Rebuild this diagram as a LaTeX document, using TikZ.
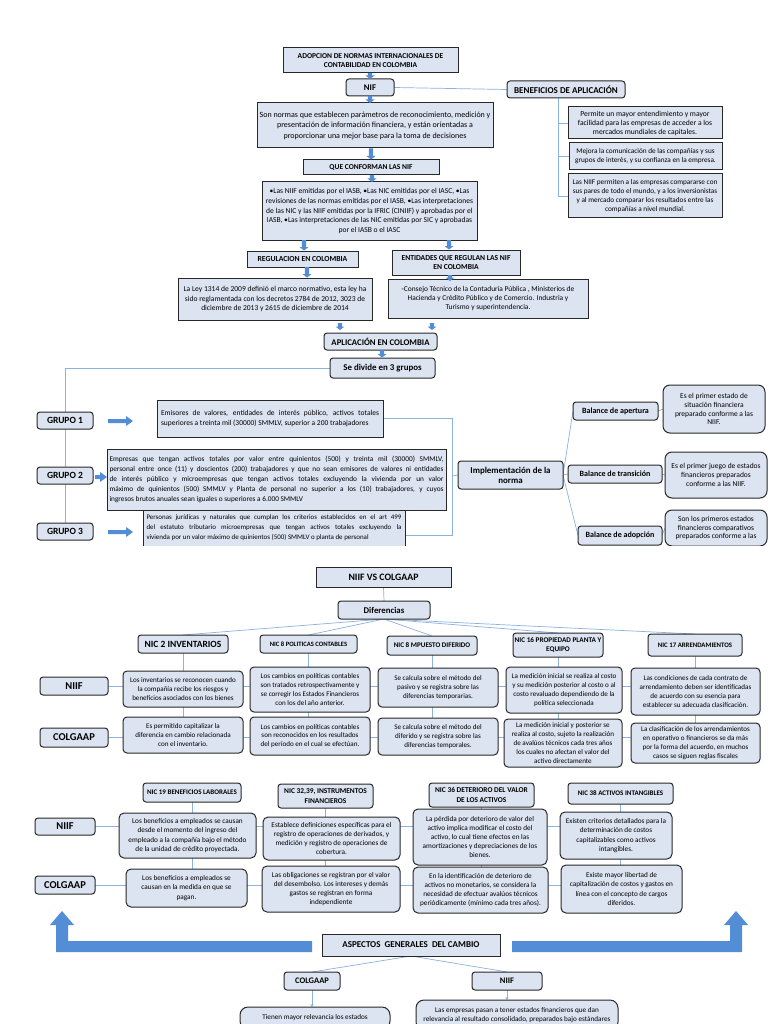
\documentclass[tikz,border=0pt]{standalone}
\usepackage{fontspec}
\setmainfont{Carlito}
\usetikzlibrary{backgrounds,arrows.meta,calc}
\definecolor{boxc}{RGB}{220,227,241}
\definecolor{bordc}{RGB}{40,40,40}
\definecolor{connc}{RGB}{140,178,222}
\definecolor{arrc}{RGB}{83,141,213}
\newcommand\fs[2]{\fontsize{#1}{#2}\selectfont}
\newcommand\bx[7]{\node[#6,minimum width={(#4)-(#2)},minimum height={(#5)-(#3)}] (#1) at ({((#2)+(#4))/2},{((#3)+(#5))/2}) {#7};}
\newcommand\darr[3]{\fill[arrc] ({#1-2.2},#2) -- ({#1+2.2},#2) -- ({#1+2.2},{#3-3.5}) -- ({#1+4.5},{#3-3.5}) -- (#1,#3) -- ({#1-4.5},{#3-3.5}) -- ({#1-2.2},{#3-3.5}) -- cycle;}
\newcommand\rarr[3]{\fill[arrc] (#1,{#3-2}) -- ({#2-7},{#3-2}) -- ({#2-7},{#3-5}) -- (#2,#3) -- ({#2-7},{#3+5}) -- ({#2-7},{#3+2}) -- (#1,{#3+2}) -- cycle;}
\tikzset{
  sq/.style={draw=bordc,line width=1pt,fill=boxc,inner sep=1pt,outer sep=0pt,align=center,text=black},
  rd/.style={sq,rounded corners=3pt},
  rdl/.style={sq,rounded corners=7pt},
  conn/.style={draw=connc,line width=0.7pt},
  hb/.style={font=\fs{#1}{8.5}\bfseries},
}
\begin{document}
\begin{tikzpicture}[x=1pt,y=-1pt]
\useasboundingbox (0,0) rectangle (768,1024);
\begin{scope}[on background layer]
\fill[white] (0,0) rectangle (768,1024);
\end{scope}

% ---------------- TOP SECTION ----------------
\bx{title}{283}{48}{458}{73}{sq,font=\fs{7.5}{9.5}\bfseries}{ADOPCION DE NORMAS INTERNACIONALES DE\\CONTABILIDAD EN COLOMBIA}
\bx{nif}{346}{79}{394}{96}{rd,hb=8.7}{NIF}
\bx{ben}{507}{81}{625}{98}{rd,hb=9}{BENEFICIOS DE APLICACIÓN}
\bx{b1}{568}{107}{722}{139}{sq,font=\fs{7.6}{9}}{Permite un mayor entendimiento y mayor\\facilidad para las empresas de acceder a los\\mercados mundiales de capitales.}
\bx{b2}{569}{143}{722}{170}{sq,font=\fs{7.25}{9}}{Mejora la comunicación de las compañías y sus\\grupos de interés, y su confianza en la empresa.}
\bx{b3}{568}{174}{722}{218}{sq,font=\fs{7.25}{9}}{Las NIIF permiten a las empresas compararse con\\sus pares de todo el mundo, y a los inversionistas\\y al mercado comparar los resultados entre las\\compañías a nivel mundial.}
\bx{desc}{257}{103}{493}{148}{sq,font=\fs{8}{10.5}}{Son normas que establecen parámetros de reconocimiento, medición y\\presentación de información financiera, y están orientadas a\\proporcionar una mejor base para la toma de decisiones}
\bx{qc}{303}{160}{439}{175}{sq,hb=7.5}{QUE CONFORMAN LAS NIF}
\bx{list}{262}{182}{477}{240}{sq,font=\fs{7.55}{9.7}}{•Las NIIF emitidas por el IASB, •Las NIC emitidas por el IASC, •Las\\revisiones de las normas emitidas por el IASB, •Las interpretaciones\\de las NIC y las NIIF emitidas por la IFRIC (CINIIF) y aprobadas por el\\IASB, •Las interpretaciones de las NIC emitidas por SIC y aprobadas\\por el IASB o el IASC}
\bx{reg}{247}{251}{358}{267}{sq,hb=7.7}{REGULACION EN COLOMBIA}
\bx{ent}{392}{250}{520}{275}{sq,font=\fs{7.6}{9}\bfseries}{ENTIDADES QUE REGULAN LAS NIF\\EN COLOMBIA}
\bx{ley}{178}{278}{372}{320}{sq,font=\fs{7.55}{9.5}}{La Ley 1314 de 2009 definió el marco normativo, esta ley ha\\sido reglamentada con los decretos 2784 de 2012, 3023 de\\diciembre de 2013 y 2615 de diciembre de 2014}
\bx{cons}{388}{279}{588}{318}{sq,font=\fs{7.4}{9}}{-Consejo Técnico de la Contaduría Pública , Ministerios de\\Hacienda y Crédito Público y de Comercio. Industria y\\Turismo y superintendencia.}
\bx{apl}{324}{333}{437}{350}{rd,hb=8.7}{APLICACIÓN EN COLOMBIA}
\bx{sed}{330}{358}{435}{378}{rd,hb=8.9}{Se divide en 3 grupos}
\bx{g1}{37}{412}{93}{429}{rd,hb=9.5}{GRUPO 1}
\bx{g2}{37}{467}{93}{484}{rd,hb=9.5}{GRUPO 2}
\bx{g3}{37}{523}{93}{540}{rd,hb=9.5}{GRUPO 3}
\bx{g1t}{157}{400}{383}{437}{sq,font=\fs{7.5}{9.3},text width=218pt,align=justify}{\parfillskip=0pt\relax Emisores de valores, entidades de interés público, activos totales\linebreak superiores a treinta mil (30000) SMMLV, superior a 200 trabajadores}
\bx{g2t}{107}{449}{446}{510}{sq,font=\fs{7.3}{10.2},text width=334pt,align=justify}{Empresas que tengan activos totales por valor entre quinientos (500) y treinta mil (30000) SMMLV,\linebreak personal entre once (11) y doscientos (200) trabajadores y que no sean emisores de valores ni entidades\linebreak de interés público y microempresas que tengan activos totales excluyendo la vivienda por un valor\linebreak máximo de quinientos (500) SMMLV y Planta de personal no superior a los (10) trabajadores, y cuyos\linebreak ingresos brutos anuales sean iguales o superiores a 6.000 SMMLV}
\bx{g3t}{143}{510}{405}{546}{sq,font=\fs{6.95}{10},text width=255pt,align=justify}{\parfillskip=0pt\relax Personas jurídicas y naturales que cumplan los criterios establecidos en el art 499\linebreak del estatuto tributario microempresas que tengan activos totales excluyendo la\linebreak vivienda por un valor máximo de quinientos (500) SMMLV o planta de personal}
\bx{impl}{458}{461}{563}{489}{rd,font=\fs{8.9}{10}\bfseries}{Implementación de la\\norma}
\bx{bal1}{573}{402}{658}{420}{rd,hb=8}{Balance de apertura}
\bx{bal2}{568}{465}{662}{483}{rd,hb=8}{Balance de transición}
\bx{bal3}{578}{526}{662}{545}{rd,hb=8}{Balance de adopción}
\bx{ds1}{663}{385}{765}{433}{rdl,font=\fs{7.5}{8.9}}{Es el primer estado de\\situación financiera\\preparado conforme a las\\NIIF.}
\bx{ds2}{665}{452}{767}{498}{rdl,font=\fs{7.5}{8.9}}{Es el primer juego de estados\\financieros preparados\\conforme a las NIIF.}
\bx{ds3}{665}{510}{767}{546}{rdl,font=\fs{7.5}{8.9}}{Son los primeros estados\\financieros comparativos\\preparados conforme a las}

\darr{370}{73}{79}
\darr{370}{96}{103}
\darr{371}{148.5}{159.5}
\darr{372}{175}{182}
\darr{304}{240}{250.5}
\darr{449}{240}{249.5}
\darr{307}{267}{277.5}
\darr{450}{275}{281}
\darr{340}{323}{330}
\darr{432}{323}{330}
\darr{382}{350}{357.5}
\rarr{108}{133}{421}
\rarr{95}{107}{477}
\rarr{108}{133}{532}

\coordinate (bv) at (558,98);
\coordinate (brk) at (452,476);
\begin{scope}[on background layer]
\draw[conn] (nif.east) -- (ben.west);
\draw[conn] (bv) |- (b1.west);
\draw[conn] (bv) |- (b2.west);
\draw[conn] (bv) |- (b3.west);
\draw[conn] (sed.west) -| (g1.north);
\draw[conn] (g1.south) -- (g2.north);
\draw[conn] (g2.south) -- (g3.north);
\draw[conn] (g1t.east) -| (brk);
\draw[conn] ([yshift=-7pt]g3t.east) -| (brk);
\draw[conn] (brk) -- (impl.west);
\draw[conn] (impl.east) -- (bal1.west);
\draw[conn] (impl.east) -- (bal2.west);
\draw[conn] (impl.east) -- (bal3.west);
\draw[conn] (bal1.east) -- (ds1.west);
\draw[conn] (bal2.east) -- (ds2.west);
\draw[conn] (bal3.east) -- (ds3.west);
\end{scope}

% white gap between the two pages
\fill[white] (0,545.5) rectangle (768,559);

% ---------------- BOTTOM SECTION ----------------
\bx{nvc}{316}{567}{451}{587}{sq,hb=9.8}{NIIF VS COLGAAP}
\bx{dif}{338}{601}{430}{619}{rd,hb=8.8}{Diferencias}
\bx{h1}{138}{635}{228}{653}{rd,hb=9.5}{NIC 2 INVENTARIOS}
\bx{h2}{260}{635}{357}{653}{rd,hb=6.6}{NIC 8 POLITICAS CONTABLES}
\bx{h3}{387}{636}{477}{655}{rd,hb=7.1}{NIC 8 MPUESTO DIFERIDO}
\bx{h4}{513}{633}{603}{657}{rd,font=\fs{7.2}{9.5}\bfseries}{NIC 16 PROPIEDAD PLANTA Y\\EQUIPO}
\bx{h5}{648}{634}{742}{656}{rd,hb=6.8}{NIC 17 ARRENDAMIENTOS}
\bx{la1}{40}{677}{108}{695}{rd,hb=10.5}{NIIF}
\bx{la2}{40}{728}{108}{747}{rd,hb=10.5}{COLGAAP}
\tikzset{cell/.style={rd,rounded corners=4pt,font=\fs{7.1}{8.8}}}
\bx{c11}{123}{671}{243}{707}{cell}{Los inventarios se reconocen cuando\\la compañía recibe los riesgos y\\beneficios asociados con los bienes}
\bx{c12}{250}{667}{370}{712}{cell}{Los cambios en políticas contables\\son tratados retrospectivamente y\\se  corregir los Estados Financieros\\con los del año anterior.}
\bx{c13}{378}{668}{498}{707}{cell}{Se calcula sobre el método del\\pasivo y se registra sobre las\\diferencias temporarias.}
\bx{c14}{506}{667}{622}{713}{cell}{La medición inicial se realiza al costo\\y su medición posterior al costo o al\\costo revaluado dependiendo de la\\política seleccionada}
\bx{c15}{631}{668}{760}{715}{cell}{Las condiciones de cada contrato de\\arrendamiento deben ser identificadas\\de acuerdo con su esencia para\\establecer su adecuada clasificación.}
\bx{c21}{123}{717}{243}{753}{cell}{Es permitido capitalizar la\\diferencia en cambio relacionada\\con el inventario.}
\bx{c22}{250}{717}{370}{755}{cell}{Los cambios en políticas contables\\son reconocidos en los resultados\\del período en el cual se efectúan.}
\bx{c23}{378}{718}{498}{755}{cell}{Se calcula sobre el método del\\diferido y se registra sobre las\\diferencias temporales.}
\bx{c24}{504}{719}{622}{767}{cell}{La medición inicial y posterior se\\realiza al costo, sujeto la realización\\de avalúos técnicos cada tres años\\los cuales no afectan el valor del\\activo directamente}
\bx{c25}{631}{723}{760}{763}{cell}{La clasificación de los arrendamientos\\en operativo o financieros se da más\\por la forma del acuerdo, en muchos\\casos se siguen reglas fiscales}

\bx{k1}{143}{783}{241}{802}{rd,hb=7}{NIC 19 BENEFICIOS LABORALES}
\bx{k2}{278}{784}{373}{808}{rd,font=\fs{7.4}{9.5}\bfseries}{NIC 32,39, INSTRUMENTOS\\FINANCIEROS}
\bx{k3}{429}{783}{534}{807}{rd,font=\fs{7.4}{9.5}\bfseries}{NIC 36 DETERIORO DEL VALOR\\DE LOS ACTIVOS}
\bx{k4}{568}{783}{673}{804}{rd,hb=7}{NIC 38 ACTIVOS INTANGIBLES}
\bx{lb1}{35}{818}{95}{835}{rd,hb=10.5}{NIIF}
\bx{lb2}{35}{876}{95}{894}{rd,hb=10.5}{COLGAAP}
\tikzset{cellb/.style={rd,rounded corners=5pt,font=\fs{7.25}{9.2}}}
\bx{m11}{119}{813}{256}{858}{cellb}{Los beneficios a empleados se causan\\desde el momento del ingreso del\\empleado a la compañía bajo el método\\de la unidad de crédito proyectada.}
\bx{m12}{263}{817}{400}{860}{cellb}{Establece definiciones específicas para el\\registro de operaciones de derivados, y\\medición y registro de operaciones de\\cobertura.}
\bx{m13}{413}{809}{547}{865}{cellb}{La pérdida por deterioro de valor del\\activo implica modificar el costo del\\activo, lo cual tiene efectos en las\\amortizaciones y depreciaciones de los\\bienes.}
\bx{m14}{560}{812}{672}{859}{cellb}{Existen criterios detallados para la\\determinación de costos\\capitalizables como activos\\intangibles.}
\bx{m21}{126}{869}{247}{907}{cellb}{Los beneficios a empleados se\\causan en la medida en que se\\pagan.}
\bx{m22}{262}{866}{400}{912}{cellb}{Las obligaciones se registran por el valor\\del desembolso. Los intereses y demás\\gastos se registran en forma\\independiente}
\bx{m23}{413}{867}{548}{913}{cellb}{En la identificación de deterioro de\\activos no monetarios, se considera la\\necesidad de efectuar avalúos técnicos\\periódicamente (mínimo cada tres años).}
\bx{m24}{561}{865}{682}{913}{cellb}{Existe mayor libertad de\\capitalización de costos y gastos en\\línea con el concepto de cargos\\diferidos.}

\bx{asp}{322}{934}{500}{956}{sq,hb=9}{ASPECTOS\ \ GENERALES\ \ DEL CAMBIO}
\bx{bcol}{284}{972}{340}{990}{rd,hb=8.5}{COLGAAP}
\bx{bnf}{472}{972}{542}{990}{rd,hb=8.5}{NIIF}
\bx{bl}{240}{1007}{390}{1029}{rdl,rounded corners=8pt,font=\fs{7.2}{9}}{Tienen mayor relevancia los estados}
\bx{br}{416}{1000}{618}{1030}{rdl,rounded corners=8pt,font=\fs{7.2}{9.3}}{Las empresas pasan a tener estados financieros que dan\\relevancia al resultado consolidado, preparados bajo estándares}

% big bent arrows
\fill[arrc] (312,941) -- (68,941) -- (68,925) -- (74,925) -- (62,911) -- (50,925) -- (56,925) -- (56,952) -- (312,952) -- cycle;
\fill[arrc] (512,941) -- (730,941) -- (730,925) -- (724,925) -- (736,911) -- (748,925) -- (742,925) -- (742,952) -- (512,952) -- cycle;

\begin{scope}[on background layer]
\draw[conn] (nvc.south) -- (dif.north);
\foreach \h in {h1,h2,h3,h4,h5} \draw[conn] (dif.south) -- (\h.north);
\draw[conn] (la1.east) -- (c15.west |- la1.east);
\draw[conn] (la2.east) -- (c25.west |- la2.east);
\foreach \a/\b in {h1/c21,h2/c22,h3/c23,h4/c24,h5/c25} \draw[conn] (\a.south) -- (\a.south |- \b.north);
\draw[conn] (lb1.east) -- (m14.west |- lb1.east);
\draw[conn] (lb2.east) -- (m24.west |- lb2.east);
\foreach \a/\b in {k1/m21,k2/m22,k3/m23,k4/m24} \draw[conn] (\a.south) -- (\a.south |- \b.north);
\draw[conn] (asp.south) -- (bcol.north);
\draw[conn] (asp.south) -- (bnf.north);
\draw[conn,-{Stealth[length=3pt,width=3pt]}] (bcol.south) -- (bcol.south |- bl.north);
\draw[conn,-{Stealth[length=3pt,width=3pt]}] (bnf.south) -- (bnf.south |- br.north);
\end{scope}
\end{tikzpicture}
\end{document}
